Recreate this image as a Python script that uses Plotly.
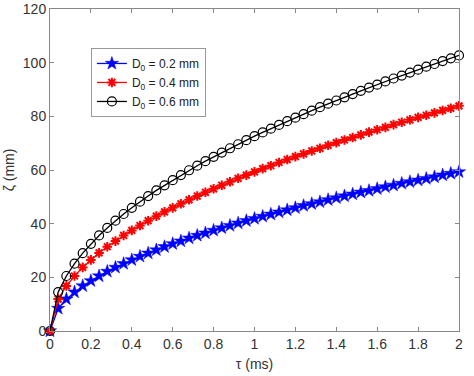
import plotly.graph_objects as go

tau = [round(0.04 * i, 2) for i in range(51)]

zeta_02 = [0, 8.4, 11.9, 14.5, 16.8, 18.7, 20.5, 22.2, 23.7, 25.1, 26.5, 27.8, 29.0, 30.2, 31.4,
           32.5, 33.5, 34.6, 35.6, 36.5, 37.5, 38.4, 39.3, 40.2, 41.1, 41.9, 42.7, 43.5, 44.3, 45.1,
           45.9, 46.7, 47.4, 48.1, 48.9, 49.6, 50.3, 51.0, 51.7, 52.3, 53.0, 53.7, 54.3, 55.0, 55.6,
           56.2, 56.8, 57.4, 58.1, 58.7, 59.3]
zeta_04 = [0, 11.9, 16.8, 20.5, 23.7, 26.5, 29.1, 31.4, 33.5, 35.6, 37.5, 39.3, 41.1, 42.8, 44.4,
           45.9, 47.4, 48.9, 50.3, 51.7, 53.0, 54.3, 55.6, 56.9, 58.1, 59.3, 60.5, 61.6, 62.8, 63.9,
           65.0, 66.0, 67.1, 68.1, 69.2, 70.2, 71.2, 72.1, 73.1, 74.1, 75.0, 75.9, 76.9, 77.8, 78.7,
           79.6, 80.4, 81.3, 82.2, 83.0, 83.9]
zeta_06 = [0, 14.5, 20.5, 25.1, 29.0, 32.5, 35.6, 38.4, 41.1, 43.6, 45.9, 48.2, 50.3, 52.4, 54.3,
           56.2, 58.1, 59.9, 61.6, 63.3, 64.9, 66.5, 68.1, 69.6, 71.1, 72.6, 74.0, 75.4, 76.8, 78.2,
           79.5, 80.8, 82.1, 83.4, 84.7, 85.9, 87.1, 88.3, 89.5, 90.7, 91.8, 93.0, 94.1, 95.2, 96.3,
           97.4, 98.5, 99.5, 100.6, 101.6, 102.7]

x_ticks = [0, 0.2, 0.4, 0.6, 0.8, 1, 1.2, 1.4, 1.6, 1.8, 2]
x_tick_labels = ["0", "0.2", "0.4", "0.6", "0.8", "1", "1.2", "1.4", "1.6", "1.8", "2"]
y_ticks = [0, 20, 40, 60, 80, 100, 120]
names = ["D<sub>0</sub> = 0.2 mm", "D<sub>0</sub> = 0.4 mm", "D<sub>0</sub> = 0.6 mm"]

fig = go.Figure()
fig.add_trace(go.Scatter(
    x=tau, y=zeta_02, mode="lines+markers", name=names[0],
    line=dict(color="#0000ff", width=1.3),
    marker=dict(symbol="star", size=10, color="#0000ff", line=dict(color="#0000ff", width=0.5)),
    cliponaxis=False,
))
fig.add_trace(go.Scatter(
    x=tau, y=zeta_04, mode="lines+markers", name=names[1],
    line=dict(color="#ff0000", width=1.3),
    marker=dict(symbol="asterisk-open", size=8, color="#ff0000", line=dict(color="#ff0000", width=2)),
    cliponaxis=False,
))
fig.add_trace(go.Scatter(
    x=tau, y=zeta_06, mode="lines+markers", name=names[2],
    line=dict(color="#000000", width=1.3),
    marker=dict(symbol="circle-open", size=9, color="#000000", line=dict(color="#000000", width=1.2)),
    cliponaxis=False,
))

axis_font = dict(family="Liberation Sans, Arial, sans-serif", size=14, color="#333333")
fig.update_layout(
    width=474, height=376,
    margin=dict(l=50, r=15, t=9, b=45, autoexpand=False),
    paper_bgcolor="white", plot_bgcolor="white",
    font=axis_font,
    showlegend=True,
    legend=dict(
        x=0.1, y=0.879, xanchor="left", yanchor="top",
        bgcolor="white", bordercolor="#999999", borderwidth=1,
        font=dict(family="Liberation Sans, Arial, sans-serif", size=12, color="#222222"),
        tracegroupgap=0, itemwidth=30,
    ),
    xaxis=dict(
        range=[0, 2], tickvals=x_ticks, ticktext=x_tick_labels, automargin=False,
        showgrid=False, zeroline=False, showline=True, linecolor="#888888", linewidth=1,
        mirror="ticks", ticks="inside", ticklen=4, tickcolor="#888888",
        tickfont=dict(size=14, color="#333333"),
        title=dict(text="τ (ms)", font=dict(size=14, color="#333333"), standoff=8),
    ),
    yaxis=dict(
        range=[0, 120], tickvals=y_ticks, automargin=False,
        showgrid=False, zeroline=False, showline=True, linecolor="#888888", linewidth=1,
        mirror="ticks", ticks="inside", ticklen=4, tickcolor="#888888",
        tickfont=dict(size=14, color="#333333"),
        title=dict(text="ζ (mm)", font=dict(size=14, color="#333333"), standoff=4),
    ),
)

fig.write_html(
    "out.html",
    config={"displayModeBar": False},
    post_script="document.body.style.margin='0';document.body.style.padding='0';",
)
